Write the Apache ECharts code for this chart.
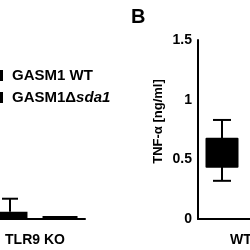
<!DOCTYPE html>
<html>
<head>
<meta charset="utf-8">
<script src="https://cdn.jsdelivr.net/npm/echarts@6/dist/echarts.min.js"></script>
<style>
  html, body { margin: 0; padding: 0; background: #fff; }
  #chart { width: 250px; height: 250px; }
</style>
</head>
<body>
<div id="chart"></div>
<script>
// panel A (right end only visible)
const catsA = ["TLR9 KO"];
const wtMean = [0.06];
const sdaMean = [0.025];
const wtErrTop = [0.17];

// panel B (left part only visible)
const catsB = ["WT"];
// [min, q1, median, q3, max]
const boxWT = [[0.32, 0.43, 0.55, 0.68, 0.83]];

const font = "Liberation Sans, Arial, sans-serif";

const chart = echarts.init(document.getElementById("chart"));

// 误差线
function errRender(params, api) {
  const top = api.coord([api.value(0), api.value(1)]);
  const base = api.coord([api.value(0), api.value(2)]);
  const x = top[0] - 25;
  return {
    type: "group",
    children: [
      { type: "line", shape: { x1: x, y1: base[1], x2: x, y2: top[1] }, style: { stroke: "#000", lineWidth: 2 } },
      { type: "line", shape: { x1: x - 8, y1: top[1], x2: x + 8, y2: top[1] }, style: { stroke: "#000", lineWidth: 2 } },
    ],
  };
}

// 箱线图
function boxRender(params, api) {
  const cx = api.coord([api.value(0), 0])[0] - 19;
  const y = (i) => api.coord([api.value(0), api.value(i)])[1];
  const lo = y(1), q1 = y(2), q3 = y(4), hi = y(5);
  const w = 33, cap = 9;
  return {
    type: "group",
    children: [
      { type: "line", shape: { x1: cx, y1: hi, x2: cx, y2: lo }, style: { stroke: "#000", lineWidth: 2 } },
      { type: "line", shape: { x1: cx - cap, y1: hi, x2: cx + cap, y2: hi }, style: { stroke: "#000", lineWidth: 2 } },
      { type: "line", shape: { x1: cx - cap, y1: lo, x2: cx + cap, y2: lo }, style: { stroke: "#000", lineWidth: 2 } },
      { type: "rect", shape: { x: cx - w / 2, y: q3, width: w, height: q1 - q3, r: 1 }, style: { fill: "#000" } },
    ],
  };
}

const axisLine = { show: true, lineStyle: { color: "#000", width: 2 } };

const options = {
  animation: false,
  title: {
    text: "B",
    left: 126,
    top: 2,
    textStyle: { fontSize: 20, fontWeight: "bold", color: "#000", fontFamily: font },
  },
  legend: {
    orient: "vertical",
    left: -12,
    top: 68,
    padding: 0,
    itemWidth: 15,
    itemHeight: 11,
    itemGap: 7,
    icon: "rect",
    data: ["GASM1 WT", "GASM1Δsda1"],
    formatter: (name) => (name === "GASM1Δsda1" ? "GASM1Δ{i|sda1}" : name),
    textStyle: {
      fontSize: 15,
      fontWeight: "bold",
      color: "#000",
      fontFamily: font,
      padding: [0, 0, 0, 4],
      rich: {
        i: { fontSize: 15, fontWeight: "bold", fontStyle: "italic", color: "#000", fontFamily: font },
      },
    },
  },
  grid: [
    { left: -15, width: 100, top: 40, bottom: 31, outerBoundsMode: "none" },
    { left: 198, width: 86, top: 40, bottom: 31, outerBoundsMode: "none" },
  ],
  xAxis: [
    {
      gridIndex: 0,
      type: "category",
      data: catsA,
      axisLine: axisLine,
      axisTick: { show: false },
      axisLabel: { color: "#000", fontSize: 14, fontWeight: "bold", fontFamily: font, margin: 14 },
    },
    {
      gridIndex: 1,
      type: "category",
      data: catsB,
      axisLine: axisLine,
      axisTick: { show: false },
      axisLabel: { color: "#000", fontSize: 14, fontWeight: "bold", fontFamily: font, margin: 14 },
    },
  ],
  yAxis: [
    { gridIndex: 0, type: "value", min: 0, max: 1.5, show: false },
    {
      gridIndex: 1,
      type: "value",
      min: 0,
      max: 1.5,
      interval: 0.5,
      axisLine: axisLine,
      axisTick: { show: false },
      splitLine: { show: false },
      axisLabel: { color: "#000", fontSize: 14, fontWeight: "bold", fontFamily: font, margin: 6 },
      name: "TNF-α [ng/ml]",
      nameLocation: "middle",
      nameGap: 33,
      nameTextStyle: { color: "#000", fontSize: 13, fontWeight: "bold", fontFamily: font, padding: [0, 0, 0, 16] },
    },
  ],
  series: [
    {
      name: "GASM1 WT",
      type: "bar",
      xAxisIndex: 0,
      yAxisIndex: 0,
      barWidth: 35,
      barGap: "43%",
      itemStyle: { color: "#000" },
      data: wtMean,
    },
    {
      name: "GASM1Δsda1",
      type: "bar",
      xAxisIndex: 0,
      yAxisIndex: 0,
      barWidth: 35,
      itemStyle: { color: "#000" },
      data: sdaMean,
    },
    {
      type: "custom",
      xAxisIndex: 0,
      yAxisIndex: 0,
      renderItem: errRender,
      data: catsA.map((c, i) => [i, wtErrTop[i], wtMean[i]]),
      z: 1,
    },
    {
      type: "custom",
      xAxisIndex: 1,
      yAxisIndex: 1,
      renderItem: boxRender,
      data: boxWT.map((b, i) => [i].concat(b)),
    },
  ],
};

chart.setOption(options);
window.addEventListener("resize", () => chart.resize());
</script>
</body>
</html>
